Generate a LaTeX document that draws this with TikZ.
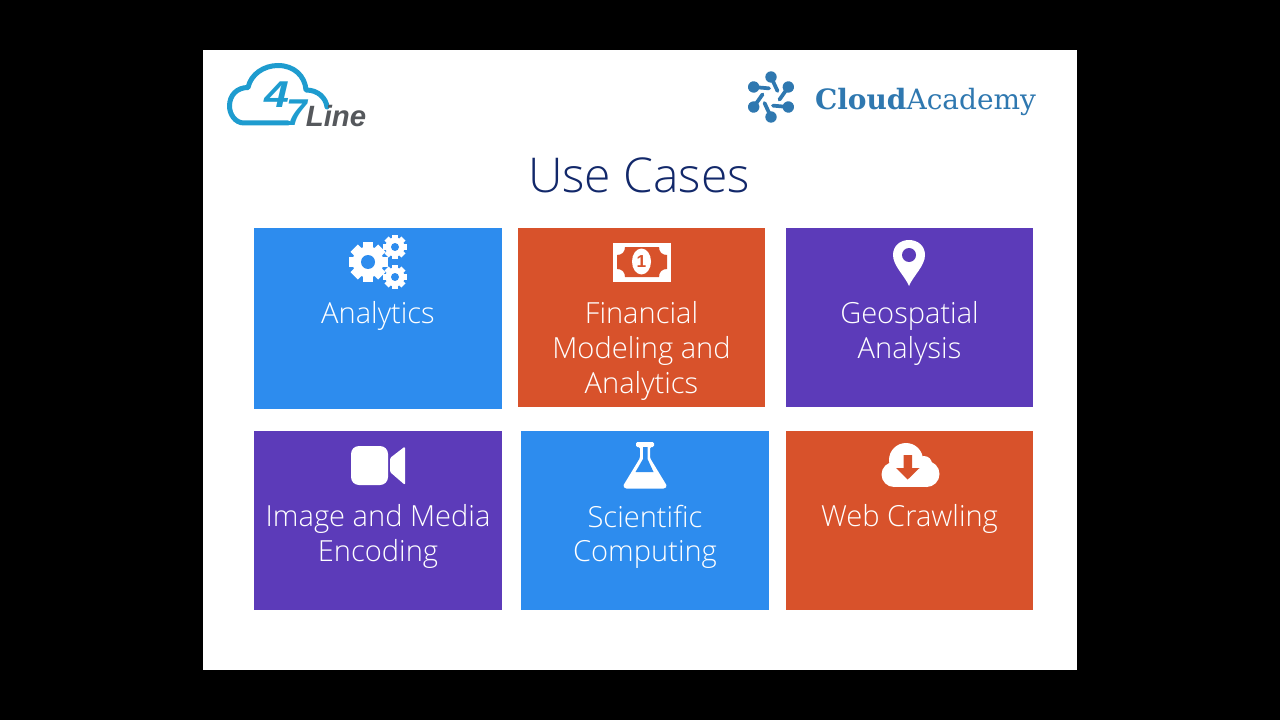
\documentclass[tikz,border=0pt]{standalone}
\usepackage{fontspec}
\setmainfont{Open Sans}[UprightFont=* Light]
\newfontfamily\logofont{Liberation Sans}
\newfontfamily\academyfont{DejaVu Serif}
\usetikzlibrary{positioning}
\definecolor{cardblue}{HTML}{2D8CEE}
\definecolor{cardorange}{HTML}{D8522B}
\definecolor{cardpurple}{HTML}{5C3BB9}
\definecolor{titlenavy}{HTML}{12286A}
\definecolor{logoblue}{HTML}{1E9CCF}
\definecolor{logogray}{HTML}{55585C}
\definecolor{academyblue}{HTML}{2F78B0}
\tikzset{
  card/.style={inner sep=0pt,minimum width=185.5pt},
  cardtext/.style={text=white,align=center,anchor=north,inner sep=0pt,font=\fontsize{21.8}{25.9}\selectfont}
}
\newcommand{\gearicon}[5]{% x, y, outer, body, hole
  \foreach \a in {0,45,...,315}
    \fill[white,shift={(#1,#2)},rotate=\a] (-#5*0.75,#4*0.8) rectangle (#5*0.75,#3);
  \fill[white] (#1,#2) circle (#4);
  \fill[cardblue] (#1,#2) circle (#5);
}
\begin{document}
\begin{tikzpicture}[x=0.75pt,y=-0.75pt]
  \useasboundingbox (0,0) rectangle (1280,720);
  \fill[black] (0,0) rectangle (1280,720);
  \fill[white] (203,50) rectangle (1077,670);

  \node[text=titlenavy,font=\fontsize{36}{40}\selectfont] (title) at (639,175) {Use Cases};

  \node[card,fill=cardblue,minimum height=135.75pt] (analytics) at (378,318.5) {};
  \node[card,fill=cardorange,minimum height=134.25pt] (financial) at (641.5,317.5) {};
  \node[card,fill=cardpurple,minimum height=134.25pt] (geo) at (909.5,317.5) {};
  \node[card,fill=cardpurple,minimum height=134.25pt] (media) at (378,520.5) {};
  \node[card,fill=cardblue,minimum height=134.25pt] (science) at (645,520.5) {};
  \node[card,fill=cardorange,minimum height=134.25pt] (crawl) at (909.5,520.5) {};

  \node[cardtext,below=55.4pt of analytics.north] (analyticstext) {Analytics};
  \node[cardtext,below=55.4pt of financial.north] (financialtext) {Financial\\Modeling and\\Analytics};
  \node[cardtext,below=55.4pt of geo.north] (geotext) {Geospatial\\Analysis};
  \node[cardtext,below=55.4pt of media.north] (mediatext) {Image and Media\\Encoding};
  \node[cardtext,below=55.4pt of science.north] (sciencetext) {Scientific\\Computing};
  \node[cardtext,below=55.4pt of crawl.north] (crawltext) {Web Crawling};

  % gears
  \gearicon{368}{262}{19.5}{15.5}{7}
  \gearicon{395}{247}{12}{9.5}{4}
  \gearicon{395}{277}{12}{9.5}{4}

  % banknote
  \fill[white] (612.5,243) rectangle (671,282);
  \fill[cardorange] (625,247) -- (659,247) .. controls (659,252) and (662,255) .. (667,255)
    -- (667,269) .. controls (662,269) and (659,272) .. (659,277) -- (625,277)
    .. controls (625,272) and (622,269) .. (617,269) -- (617,255)
    .. controls (622,255) and (625,252) .. (625,247) -- cycle;
  \fill[white] (641.5,261.5) ellipse (9.5 and 13);
  \node[text=cardorange,font=\logofont\bfseries\fontsize{13}{13}\selectfont,inner sep=0pt] (billone) at (641.5,261.5) {1};

  % pin
  \fill[white] (909,286) .. controls (905,276) and (893,266) .. (893,255)
    .. controls (893,246) and (900,240) .. (909,240)
    .. controls (918,240) and (925,246) .. (925,255)
    .. controls (925,266) and (913,276) .. (909,286) -- cycle;
  \fill[cardpurple] (909,255) circle (7);

  % camera
  \fill[white,rounded corners=6] (351,446) rectangle (388,485);
  \fill[white,rounded corners=1] (390,458) -- (405,446.5) -- (405,485) -- (390,472) -- cycle;

  % flask
  \fill[white,rounded corners=1] (636,442) -- (654,442) -- (654,447) -- (650,447) -- (650,458)
    -- (667,486) -- (665,488.5) -- (625,488.5) -- (623,486) -- (640,458) -- (640,447) -- (636,447) -- cycle;
  \fill[cardblue] (643,447) -- (647.5,447) -- (647.5,459) -- (653.5,472) -- (635.5,472) -- (643,459) -- cycle;

  % download cloud
  \fill[white] (906,460) circle (17);
  \fill[white] (894,474.5) circle (12.5);
  \fill[white] (926.5,474) circle (13);
  \fill[white] (924,464) circle (8);
  \fill[white] (893,472) rectangle (926,487);
  \fill[cardorange] (903.5,455) -- (912,455) -- (912,468) -- (919.5,468) -- (907.7,479.5) -- (896,468) -- (903.5,468) -- cycle;

  % 47Line logo
  \draw[logoblue,line width=3.75pt,line cap=round,line join=round] (288,123) -- (244,123)
    .. controls (235,123) and (229.5,114) .. (229.5,106)
    .. controls (229.5,95) and (237,87.5) .. (248,87.5)
    .. controls (251,74) and (264,65.5) .. (278,65.5)
    .. controls (294,65.5) and (305,76) .. (306,90)
    .. controls (318,90) and (326,98) .. (327,107);
  \node[text=logoblue,font=\logofont\bfseries\itshape\fontsize{28}{28}\selectfont,inner sep=0pt,anchor=base west] (fourseven) at (264,108) {\scalebox{1.2}[1]{4}\kern-2pt\raisebox{-13.5pt}{7}};
  \node[text=logogray,font=\logofont\bfseries\itshape\fontsize{22}{22}\selectfont,inner sep=0pt] (line) at (336,116) {Line};

  % CloudAcademy logo
  \foreach \a in {0,60,...,300} {
    \draw[academyblue,line width=2.8pt,line cap=round,shift={(771,97)},rotate=\a] (0,-20) -- (6.5,-6);
    \fill[academyblue,shift={(771,97)},rotate=\a] (0,-20) circle (5.7);
  }
  \node[text=academyblue,font=\academyfont\fontsize{21}{21}\selectfont,inner sep=0pt] (academy) at (925.5,101.5) {\textbf{Cloud}Academy};
\end{tikzpicture}
\end{document}
